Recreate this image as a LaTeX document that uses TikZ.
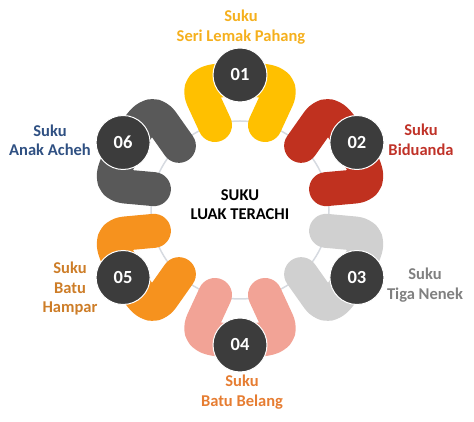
\documentclass[tikz,border=0pt]{standalone}
\usepackage{fontspec}
\setmainfont{Carlito}

\definecolor{shoeyellow}{RGB}{255,192,0}
\definecolor{shoered}{RGB}{192,49,31}
\definecolor{shoelight}{RGB}{208,208,208}
\definecolor{shoepink}{RGB}{242,163,150}
\definecolor{shoeorange}{RGB}{246,146,30}
\definecolor{shoedark}{RGB}{89,89,89}
\definecolor{numgray}{RGB}{60,60,60}
\definecolor{ringgray}{RGB}{214,218,224}
\definecolor{txtyellow}{RGB}{245,176,30}
\definecolor{txtred}{RGB}{192,50,40}
\definecolor{txtgray}{RGB}{128,128,128}
\definecolor{txtorange}{RGB}{230,125,50}
\definecolor{txtbrown}{RGB}{205,125,40}
\definecolor{txtblue}{RGB}{47,80,130}

\tikzset{
  num/.style={circle, fill=numgray, draw=white, line width=1pt, minimum size=54pt,
    inner sep=0pt, text=white, font=\bfseries\fontsize{18.5}{20}\selectfont},
  lbl/.style={align=center, inner sep=0pt, font=\bfseries\fontsize{16.5}{19.8}\selectfont},
  ring/.style={draw=ringgray, line width=1.5pt},
  shoe/.pic={
    \draw[line width=34pt, line cap=round, line join=round]
      (50,-25) -- (24,-37) .. controls (8,-44) and (5,-30) .. (5,-8) -- (5,8)
      .. controls (5,30) and (8,44) .. (24,37) -- (50,25);
  },
}

\begin{document}
\begin{tikzpicture}[x=1pt,y=1pt]
\useasboundingbox (0,0) rectangle (474,422);
\coordinate (c) at (240,212);
\path (c) ++(90:135) coordinate (p1);
\path (c) ++(30:135) coordinate (p2);
\path (c) ++(-30:135) coordinate (p3);
\path (c) ++(-90:135) coordinate (p4);
\path (c) ++(-150:135) coordinate (p5);
\path (c) ++(150:135) coordinate (p6);

\draw[ring] (c) circle[radius=89];

\pic[shoeyellow, rotate=270] at (p1) {shoe};
\pic[shoered, rotate=210] at (p2) {shoe};
\pic[shoelight, rotate=150] at (p3) {shoe};
\pic[shoepink, rotate=90] at (p4) {shoe};
\pic[shoeorange, rotate=30] at (p5) {shoe};
\pic[shoedark, rotate=330] at (p6) {shoe};

\node[num] (n1) at (p1) {01};
\node[num] (n2) at (p2) {02};
\node[num] (n3) at (p3) {03};
\node[num] (n4) at (p4) {04};
\node[num] (n5) at (p5) {05};
\node[num] (n6) at (p6) {06};

\node[lbl, text=txtyellow] (l1) at (241,395.1) {Suku\\Seri Lemak Pahang};
\node[lbl, text=txtred] (l2) at (421,282.4) {Suku\\Biduanda};
\node[lbl, text=txtgray] (l3) at (425,137.1) {Suku\\Tiga Nenek};
\node[lbl, text=txtorange] (l4) at (242,29.6) {Suku\\Batu Belang};
\node[lbl, text=txtbrown] (l5) at (70,133.3) {Suku\\Batu\\Hampar};
\node[lbl, text=txtblue] (l6) at (50,281.7) {Suku\\Anak Acheh};

\node[lbl] (hub) at (240,217.3) {SUKU\\LUAK TERACHI};
\end{tikzpicture}
\end{document}
